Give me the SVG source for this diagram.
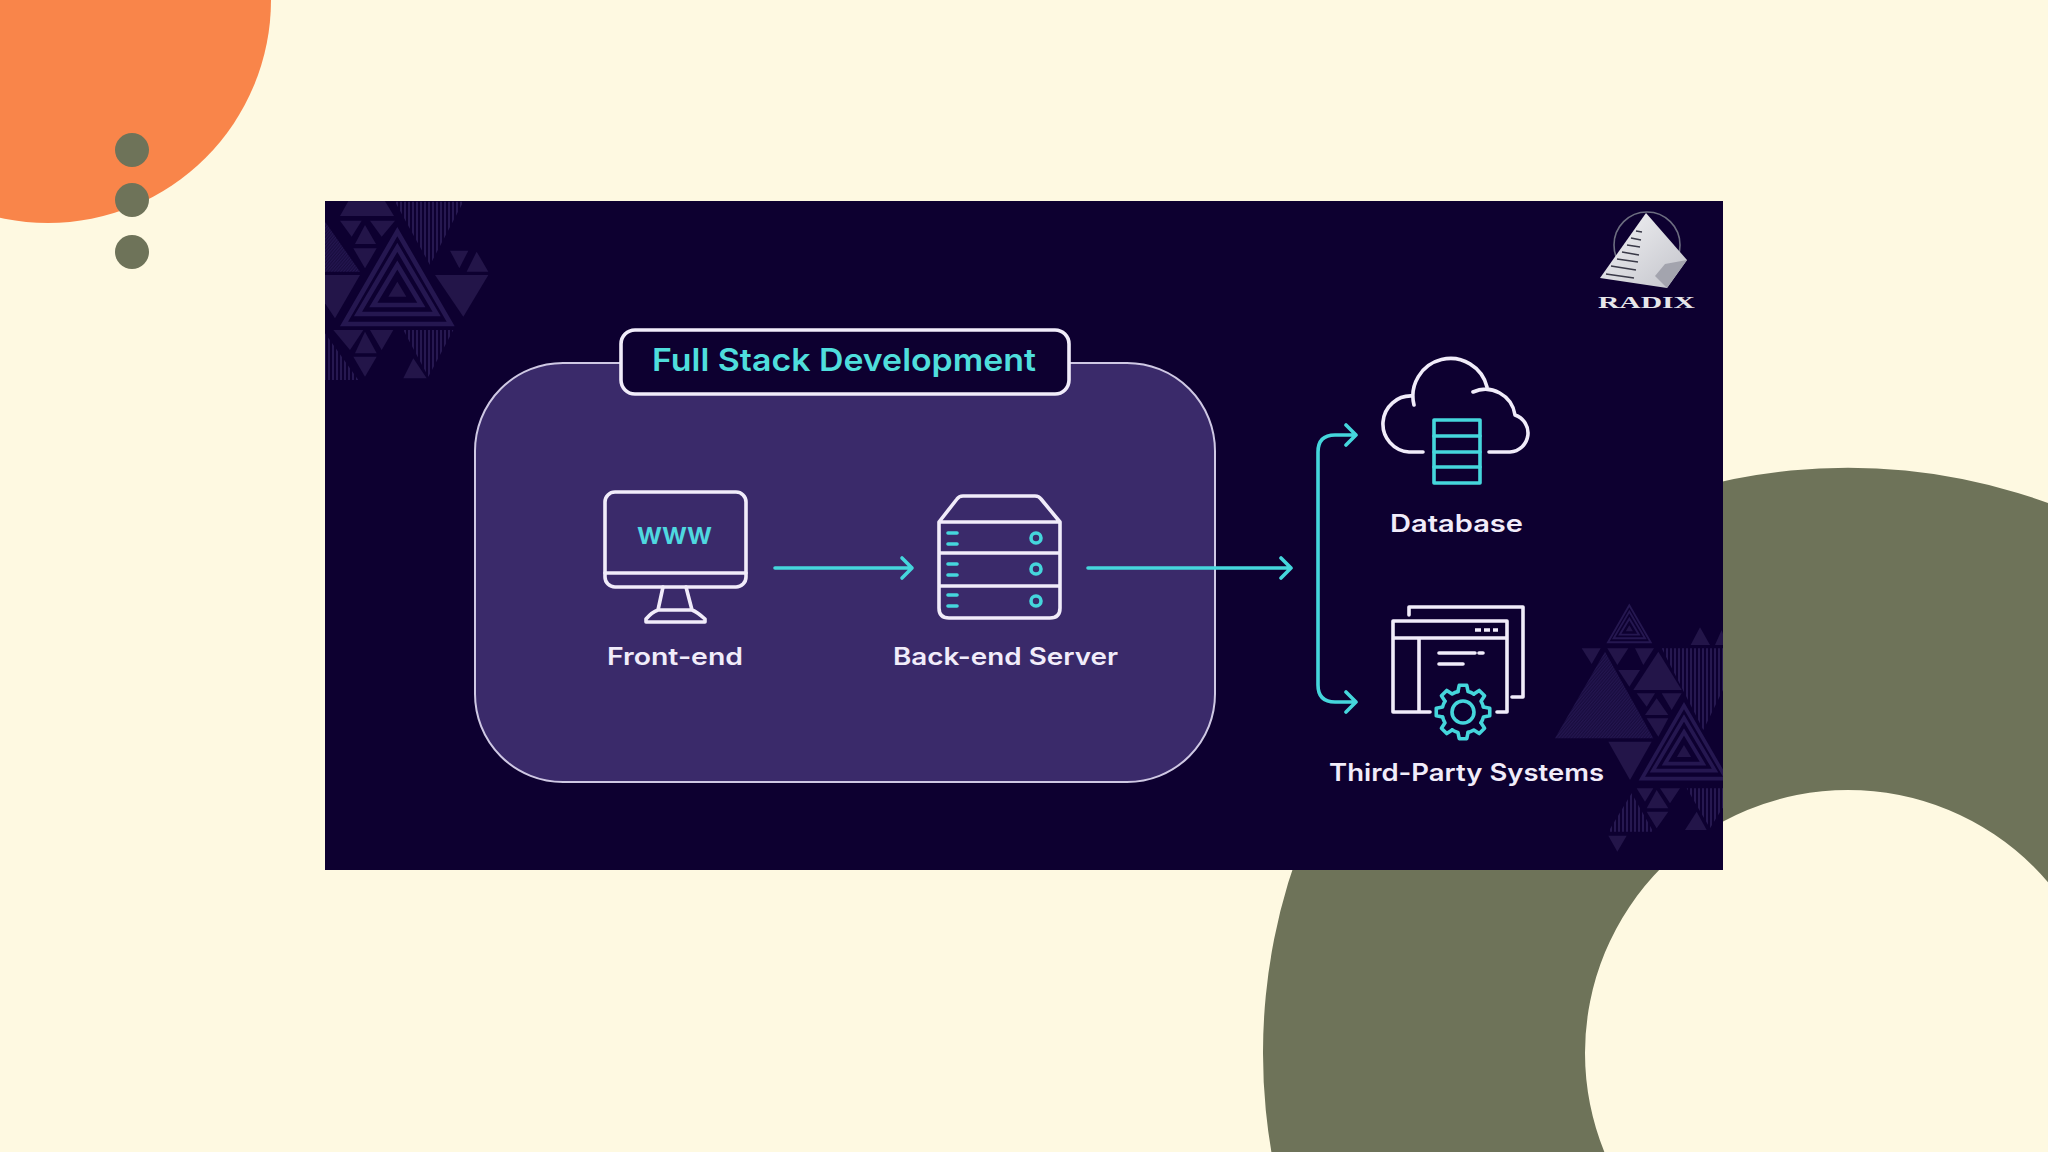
<svg xmlns="http://www.w3.org/2000/svg" width="2048" height="1152" viewBox="0 0 2048 1152">
<style>
.w{fill:none;stroke:#f1ecfa;stroke-width:3.6;stroke-linecap:round;stroke-linejoin:round}
.c{fill:none;stroke:#45d6dc;stroke-width:3.6;stroke-linecap:round;stroke-linejoin:round}
.t{fill:#f1ecfa;font-family:"Inter","Liberation Sans",sans-serif;font-weight:600;font-size:24px}
.d{fill:#231549}
.ds{fill:url(#stripes)}
.dh{fill:url(#hatch)}
.o{fill:none;stroke:#251750;stroke-width:14}
.dot{fill:#6e7359}
</style>
<defs>
<clipPath id="card"><rect x="325" y="201" width="1398" height="669"/></clipPath>
<pattern id="stripes" width="12" height="12" patternUnits="userSpaceOnUse"><rect width="6" height="12" fill="#261850"/></pattern>
<pattern id="hatch" width="7" height="7" patternUnits="userSpaceOnUse" patternTransform="rotate(40)"><rect width="7" height="7" fill="#180c3e"/><rect width="3.5" height="7" fill="#241650"/></pattern>
<g id="conc">
<polygon class="o" points="0,15 -160,292 160,292"/>
<polygon class="o" points="0,62 -118,262 118,262"/>
<polygon class="o" points="0,115 -72,235 72,235"/>
<polygon class="d" points="0,165 -27,210 27,210"/>
</g>
<path id="tooth" d="M20.38-5.08L26.74-3.76V3.76L20.38 5.08A21 21 0 0 1 18 10.82"/>
<linearGradient id="pyr" x1="0" y1="0" x2="1" y2="1"><stop offset="0" stop-color="#f4f4f6"/><stop offset="1" stop-color="#c2c3ca"/></linearGradient>
</defs>
<rect id="background" width="2048" height="1152" fill="#fef9e1"/>
<circle id="orange-circle" cx="48" cy="0" r="223" fill="#f9854a"/>
<g id="dots">
<circle class="dot" cx="132" cy="150" r="17"/>
<circle class="dot" cx="132" cy="200" r="17"/>
<circle class="dot" cx="132" cy="252" r="17"/>
</g>
<path id="green-ring" fill="#6e7359" fill-rule="evenodd" d="M1263 1053a585 585 0 1 0 1170 0a585 585 0 1 0-1170 0ZM1585 1053a263 263 0 1 0 526 0a263 263 0 1 0-526 0Z"/>
<rect id="card-bg" x="325" y="201" width="1398" height="669" fill="#0d0030"/>
<g id="pattern-decor" clip-path="url(#card)">
<g transform="translate(320 190) scale(.33333)">
<polygon class="d" points="60,78 222,78 195,34 85,34"/>
<polygon class="d" points="60,92 125,92 95,140"/>
<polygon class="d" points="150,92 225,92 185,140"/>
<polygon class="d" points="135,105 105,162 168,162"/>
<polygon class="d" points="100,175 170,175 135,235"/>
<polygon class="dh" points="15,95 120,245 15,245"/>
<polygon class="ds" points="225,35 430,35 330,225"/>
<polygon class="d" points="390,182 445,182 418,235"/>
<polygon class="d" points="440,245 505,245 470,185"/>
<polygon class="d" points="345,255 505,255 430,380"/>
<polygon class="d" points="15,255 120,255 45,385 15,340"/>
<polygon class="d" points="40,420 130,420 90,480"/>
<polygon class="d" points="150,420 220,420 185,480"/>
<polygon class="d" points="135,425 105,490 170,490"/>
<polygon class="d" points="100,500 170,500 135,560"/>
<polygon class="ds" points="15,430 115,570 15,570"/>
<polygon class="ds" points="250,420 400,420 325,560"/>
<polygon class="d" points="280,505 250,565 320,565"/>
<use href="#conc" transform="translate(232 110)"/>
</g>
<g transform="translate(1530 590) scale(.33333)">
<use href="#conc" transform="translate(298 40) scale(.4)"/>
<polygon class="d" points="510,112 482,165 540,165"/>
<polygon class="d" points="575,120 555,165 590,165"/>
<polygon class="d" points="155,175 212,175 185,222"/>
<polygon class="d" points="232,175 295,175 262,225"/>
<polygon class="d" points="315,175 372,175 340,225"/>
<polygon class="d" points="265,240 330,240 298,290"/>
<polygon class="dh" points="225,185 75,445 370,445"/>
<polygon class="d" points="385,185 310,300 455,300"/>
<polygon class="ds" points="395,175 640,175 520,420"/>
<polygon class="d" points="320,310 375,310 350,350"/>
<polygon class="d" points="380,325 345,375 415,375"/>
<polygon class="d" points="395,310 455,310 425,360"/>
<polygon class="d" points="350,385 415,385 385,440"/>
<polygon class="d" points="235,455 365,455 300,570"/>
<use href="#conc" transform="translate(462 335) scale(.79)"/>
<polygon class="d" points="320,595 370,595 345,635"/>
<polygon class="d" points="380,600 350,655 415,655"/>
<polygon class="d" points="390,595 450,595 420,640"/>
<polygon class="d" points="350,665 415,665 380,715"/>
<polygon class="ds" points="305,610 235,725 370,725"/>
<polygon class="ds" points="470,595 580,595 580,650 540,715"/>
<polygon class="d" points="500,665 465,720 530,720"/>
<polygon class="d" points="235,737 290,737 262,785"/>
</g>
</g>
<g id="logo">
<circle cx="1647" cy="245" r="33" fill="none" stroke="#6c6d80" stroke-width="1.6"/>
<polygon points="1646,213 1600,278 1667,288 1687,260" fill="url(#pyr)"/>
<polygon points="1665,264 1687,260 1667,288 1655,276" fill="#a3a4ae"/>
<path d="M1606 274L1634 278M1611 266L1636 270M1617 259L1638 262M1622 252L1639 255M1627 245L1640 247M1631 238L1641 240M1636 231L1642 232" fill="none" stroke="#3a3a48" stroke-width="1.6"/>
<text x="1598" y="308" font-family="'Liberation Serif',serif" font-weight="700" font-size="16" fill="#e6e6ea" textLength="97" lengthAdjust="spacingAndGlyphs">RADIX</text>
</g>
<g id="full-stack-panel">
<rect x="475" y="363" width="740" height="419" rx="88" fill="#3a2a6a" stroke="#cfc8e4" stroke-width="2"/>
<rect x="621" y="330" width="448" height="64" rx="14" fill="#0d0030" stroke="#f1ecfa" stroke-width="3.6"/>
<text class="t" x="652" y="371" style="fill:#4fdedc;font-size:31px" textLength="384" lengthAdjust="spacingAndGlyphs">Full Stack Development</text>
</g>
<g id="front-end">
<rect class="w" x="605" y="492" width="141" height="95" rx="10"/>
<path class="w" d="M605 573H746M663 587L658 610M686 587L692 610M658 610H692Q697 612 705 619V622H646V619Q652 612 658 610Z"/>
<text class="t" x="637" y="544" style="fill:#4fd8e0;font-size:30px" textLength="75" lengthAdjust="spacingAndGlyphs">www</text>
<text class="t" x="607" y="665" textLength="136" lengthAdjust="spacingAndGlyphs">Front-end</text>
</g>
<g id="back-end-server">
<path class="w" d="M939 522L957 499Q959 496 963 496H1035Q1039 496 1041 499L1060 522V608Q1060 618 1050 618H949Q939 618 939 608ZM939 522H1060M939 553H1060M939 586H1060"/>
<circle class="c" cx="1036" cy="538" r="5"/>
<circle class="c" cx="1036" cy="569" r="5"/>
<circle class="c" cx="1036" cy="601" r="5"/>
<path class="c" d="M948 533H957M948 544H957M948 564H957M948 575H957M948 595H957M948 606H957"/>
<text class="t" x="893" y="665" textLength="225" lengthAdjust="spacingAndGlyphs">Back-end Server</text>
</g>
<g id="database">
<path class="w" d="M1423 452H1409A27 27 0 0 1 1413 396M1414 405A37 37 0 0 1 1487 387M1473 392A30 30 0 0 1 1515 415A19 19 0 0 1 1510 452H1489"/>
<rect class="c" x="1434" y="420" width="46" height="63"/>
<path class="c" d="M1434 436H1480M1434 452H1480M1434 467H1480"/>
<text class="t" x="1390" y="532" textLength="133" lengthAdjust="spacingAndGlyphs">Database</text>
</g>
<g id="third-party-systems">
<path class="w" d="M1409 615V607H1523V697H1512M1430 712H1393V621H1507V712H1497M1393 638H1507M1419 638V712M1439 653H1475M1479 653H1483M1439 664H1463"/>
<path class="w" stroke-dasharray="6 3" d="M1475 630H1498" style="stroke-linecap:butt"/>
<g class="c" transform="translate(1463 712)">
<circle r="11"/>
<use href="#tooth"/><use href="#tooth" transform="rotate(45)"/><use href="#tooth" transform="rotate(90)"/><use href="#tooth" transform="rotate(135)"/><use href="#tooth" transform="rotate(180)"/><use href="#tooth" transform="rotate(225)"/><use href="#tooth" transform="rotate(270)"/><use href="#tooth" transform="rotate(315)"/>
</g>
<text class="t" x="1329" y="781" textLength="275" lengthAdjust="spacingAndGlyphs">Third-Party Systems</text>
</g>
<g id="connectors">
<path class="c" d="M775 568H912M902 558L912 568L902 578"/>
<path class="c" d="M1088 568H1291M1281 558L1291 568L1281 578"/>
<path class="c" d="M1356 435H1335Q1318 435 1318 452V685Q1318 702 1335 702H1356M1346 425L1356 435L1346 445M1346 692L1356 702L1346 712"/>
</g>
</svg>
